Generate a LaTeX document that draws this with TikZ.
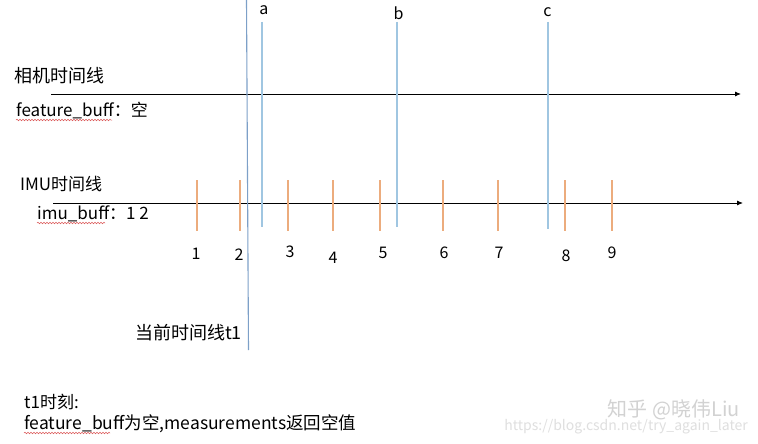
\documentclass[tikz,border=0pt]{standalone}
\usepackage{fontspec}
\setmainfont{Noto Sans CJK SC}
\usetikzlibrary{arrows.meta,decorations.pathmorphing}
\definecolor{tickorange}{RGB}{236,172,125}
\definecolor{camblue}{RGB}{160,198,225}
\definecolor{nowblue}{RGB}{125,160,200}
\definecolor{wavered}{RGB}{220,90,90}
\tikzset{
  axis/.style={draw=black, line width=0.9pt, -{Latex[length=6pt,width=5pt]}},
  imutick/.style={draw=tickorange, line width=1.15pt},
  camline/.style={draw=camblue, line width=1.1pt},
  nowline/.style={draw=nowblue, line width=1.1pt},
  lbl/.style={inner sep=0pt, font=\fontsize{17}{20}\selectfont},
  num/.style={inner sep=0pt, font=\fontsize{16}{19}\selectfont},
  wavy/.style={draw=wavered, line width=0.5pt, decorate, decoration={snake, amplitude=0.8pt, segment length=3pt}},
  wm/.style={inner sep=0pt, text=gray!35}
}
\begin{document}
\begin{tikzpicture}[x=1pt,y=-1pt]
\useasboundingbox[fill=white] (0,0) rectangle (758,444);
% axes
\coordinate (camS) at (51,94);
\coordinate (camE) at (741,94);
\coordinate (imuS) at (53,203);
\coordinate (imuE) at (743,203);
\draw[axis] (camS) -- (camE);
\draw[axis] (imuS) -- (imuE);
% IMU ticks
\foreach \n/\x/\lx/\ly in {1/197/196/254,2/240/239/255,3/288/290/252,4/333/333/258,5/380/383/253,6/443/444/253,7/498/499/253,8/565/566/256,9/612/612/253}{
  \coordinate (t\n a) at (\x,180);
  \coordinate (t\n b) at (\x,231);
  \draw[imutick] (t\n a) -- (t\n b);
  \node[num] (n\n) at (\lx,\ly) {\n};
}
% camera frame lines
\node[num] (la) at (264,10) {a};
\node[num] (lb) at (398.5,13) {b};
\node[num] (lc) at (547.5,12) {c};
\coordinate (a1) at (262,22); \coordinate (a2) at (262,227);
\coordinate (b1) at (397,22); \coordinate (b2) at (397,227);
\coordinate (c1) at (548,22); \coordinate (c2) at (548,229);
\draw[camline] (a1) -- (a2);
\draw[camline] (b1) -- (b2);
\draw[camline] (c1) -- (c2);
% current time line
\coordinate (now1) at (246.5,0);
\coordinate (now2) at (248.5,350);
\draw[nowline] (now1) -- (now2);
% texts
\node[lbl, anchor=west, font=\fontsize{18}{21}\selectfont] (camtxt) at (14,76) {相机时间线};
\node[lbl, anchor=west] (fb) at (16,110) {feature\_buff：空};
\node[lbl, anchor=west] (imutxt) at (20,184) {IMU时间线};
\node[lbl, anchor=west] (ib) at (37,214) {imu\_buff：1 2};
\node[lbl, anchor=east, font=\fontsize{18}{21}\selectfont] (nowtxt) at (242,333) {当前时间线t1};
\node[lbl, anchor=west] (t1txt) at (24,402) {t1时刻:};
\node[lbl, anchor=west, font=\fontsize{17.5}{21}\selectfont] (res) at (24,424) {feature\_buff为空,measurements返回空值};
% spelling underlines
\coordinate (w1a) at (16,120); \coordinate (w1b) at (112,120);
\coordinate (w2a) at (37,223); \coordinate (w2b) at (105,223);
\coordinate (w3a) at (24,433); \coordinate (w3b) at (110,433);
\draw[wavy] (w1a) -- (w1b);
\draw[wavy] (w2a) -- (w2b);
\draw[wavy] (w3a) -- (w3b);
% watermark
\node[wm, anchor=east, font=\fontsize{20}{23}\selectfont] (wm1) at (740,410) {知乎 @晓伟Liu};
\node[wm, anchor=east, font=\fontsize{14}{17}\selectfont, text=gray!25] (wm2) at (748,427) {https://blog.csdn.net/try\_again\_later};
\end{tikzpicture}
\end{document}
